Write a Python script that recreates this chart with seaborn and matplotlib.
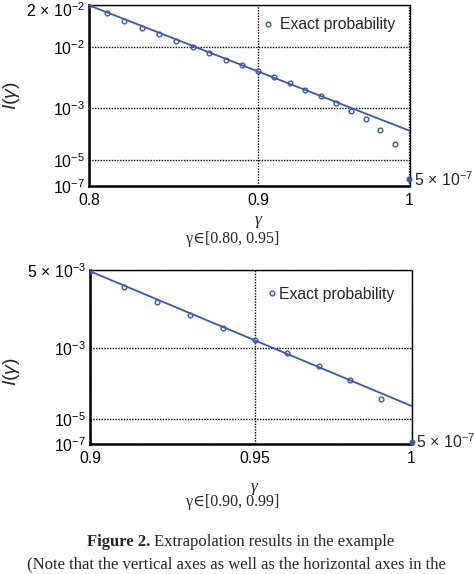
import numpy as np
import pandas as pd
import matplotlib
matplotlib.use("Agg")
import matplotlib.pyplot as plt
import matplotlib.transforms as mtransforms
from matplotlib.ticker import NullLocator
import seaborn as sns

# ---------------- data ----------------
gamma_top = [0.80, 0.81, 0.82, 0.83, 0.84, 0.85, 0.86, 0.87, 0.88, 0.89,
             0.90, 0.91, 0.92, 0.93, 0.94, 0.95, 0.96, 0.97, 0.98, 0.99]
exact_top = [2.00e-2, 1.761e-2, 1.551e-2, 1.382e-2, 1.239e-2, 1.104e-2, 1.00e-2,
             7.96e-3, 6.25e-3, 5.05e-3, 4.02e-3, 3.20e-3, 2.55e-3, 2.00e-3,
             1.56e-3, 1.195e-3, 7.86e-4, 3.66e-4, 1.45e-4, 4.16e-5]
fit_top_gamma = [0.80, 1.00]
fit_top_value = [2.00e-2, 1.32e-4]

gamma_bot = [0.90, 0.91, 0.92, 0.93, 0.94, 0.95, 0.96, 0.97, 0.98, 0.99]
exact_bot = [4.87e-3, 3.52e-3, 2.58e-3, 1.96e-3, 1.52e-3, 1.17e-3,
             7.36e-4, 3.16e-4, 1.22e-4, 3.61e-5]
fit_bot_gamma = [0.90, 1.00]
fit_bot_value = [4.87e-3, 2.29e-5]

gamma_end = [1.00]
exact_end = [5e-7]

# axis ticks
top_xticks = [0.8, 0.9, 1.0]
top_xticklabels = ["0.8", "0.9", "1"]
bot_xticks = [0.9, 0.95, 1.0]
bot_xticklabels = ["0.9", "0.95", "1"]
top_yticks = [2e-2, 1e-2, 1e-3, 1e-5, 1e-7]
top_yticklabels = [r"$2\,\times\,10^{-2}$", r"$10^{-2}$", r"$10^{-3}$", r"$10^{-5}$", r"$10^{-7}$"]
bot_yticks = [5e-3, 1e-3, 1e-5, 1e-7]
bot_yticklabels = [r"$5\,\times\,10^{-3}$", r"$10^{-3}$", r"$10^{-5}$", r"$10^{-7}$"]
end_label = r"$5\,\times\,10^{-7}$"

# calibration knots of the (non-standard) vertical scale: value -> axis fraction
top_scale_vals = [1e-7, 5e-7, 1e-5, 1e-3, 1e-2, 2e-2]
top_scale_frac = [0.0, 0.0355, 0.1441, 0.4307, 0.7672, 1.0]
bot_scale_vals = [1e-7, 5e-7, 1e-5, 1e-3, 5e-3]
bot_scale_frac = [0.0, 0.0098, 0.1439, 0.5509, 1.0]

BLUE = "#3c59a5"
FS = 11.3

sns.set_theme(style="white")
plt.rcParams["font.family"] = ["Liberation Sans", "DejaVu Sans"]
plt.rcParams["mathtext.fontset"] = "custom"
plt.rcParams["mathtext.rm"] = "Liberation Sans"
plt.rcParams["mathtext.it"] = "Liberation Sans:italic"
plt.rcParams["mathtext.bf"] = "Liberation Sans:bold"


def make_scale(vals, fracs):
    lv = np.log10(np.asarray(vals, float))
    fr = np.asarray(fracs, float)

    def _map(x, xp, fp):
        x = np.atleast_1d(np.asarray(x, float))
        out = np.interp(x, xp, fp)
        lo = x < xp[0]
        hi = x > xp[-1]
        out[lo] = fp[0] + (x[lo] - xp[0]) * (fp[1] - fp[0]) / (xp[1] - xp[0])
        out[hi] = fp[-1] + (x[hi] - xp[-1]) * (fp[-1] - fp[-2]) / (xp[-1] - xp[-2])
        return out

    def fwd(y):
        y = np.asarray(y, float)
        with np.errstate(all="ignore"):
            l = np.log10(np.clip(y, 1e-300, None))
        return _map(l, lv, fr).reshape(np.shape(y))

    def inv(t):
        t = np.asarray(t, float)
        return (10.0 ** _map(t, fr, lv)).reshape(np.shape(t))

    return fwd, inv


def panel(ax, gam, exact, fit_g, fit_v, xlim, xticks, xtl, ylim, yticks, ytl,
          svals, sfrac, leg_anchor, htp):
    fwd, inv = make_scale(svals, sfrac)
    ax.set_xscale("log")
    ax.set_yscale("function", functions=(fwd, inv))

    df_fit = pd.DataFrame({"g": fit_g, "v": fit_v})
    sns.lineplot(data=df_fit, x="g", y="v", ax=ax, color=BLUE, lw=1.3,
                 errorbar=None, legend=False, zorder=3)
    df = pd.DataFrame({"g": gam, "v": exact})
    sns.lineplot(data=df, x="g", y="v", ax=ax, linestyle="", marker="o",
                 markersize=3.4, markerfacecolor="none", markeredgecolor=BLUE,
                 markeredgewidth=1.0, errorbar=None, label="Exact probability",
                 zorder=4)
    df_end = pd.DataFrame({"g": gamma_end, "v": exact_end})
    sns.lineplot(data=df_end, x="g", y="v", ax=ax, linestyle="", marker="o",
                 markersize=3.6, markerfacecolor=BLUE, markeredgecolor=BLUE,
                 errorbar=None, legend=False, zorder=5, clip_on=False)
    ax.annotate(end_label, xy=(gamma_end[0], exact_end[0]),
                xytext=(3.0, 0), textcoords="offset points", ha="left",
                va="center", fontsize=FS, annotation_clip=False)

    ax.set_xlim(*xlim)
    ax.set_ylim(*ylim)
    ax.set_xticks(xticks)
    ax.set_xticklabels(xtl)
    ax.set_yticks(yticks)
    ax.set_yticklabels(ytl)
    ax.xaxis.set_minor_locator(NullLocator())
    ax.yaxis.set_minor_locator(NullLocator())
    ax.tick_params(axis="both", length=0, labelsize=FS, colors="black")
    ax.tick_params(axis="x", pad=5)
    ax.tick_params(axis="y", pad=3)
    ax.set_xlabel("")
    ax.set_ylabel("")
    ax.grid(True, which="major", color="black", linestyle=(0, (1, 1)), linewidth=1.0)
    for s in ("left", "bottom"):
        ax.spines[s].set_color("black")
        ax.spines[s].set_linewidth(1.8)
    for s in ("top", "right"):
        ax.spines[s].set_color("black")
        ax.spines[s].set_linewidth(1.0)
        ax.spines[s].set_linestyle((0, (1, 1)))
    ax.set_facecolor("white")

    handles, labels = ax.get_legend_handles_labels()
    ax.legend(handles, labels, loc="upper right", bbox_to_anchor=leg_anchor,
              frameon=False, fontsize=FS, handlelength=0.6, handletextpad=htp,
              borderaxespad=0.0, borderpad=0.0)


fig = plt.figure(figsize=(4.74, 5.74), dpi=100)
W, H = 474.0, 574.0

ax1 = fig.add_axes([89 / W, 1 - 185.7 / H, 320.5 / W, 180.4 / H])
panel(ax1, gamma_top, exact_top, fit_top_gamma, fit_top_value, (0.8, 1.0),
      top_xticks, top_xticklabels, (1e-7, 2e-2), top_yticks, top_yticklabels,
      top_scale_vals, top_scale_frac, (0.955, 0.935), 0.45)
# nudge the top-most tick label slightly down so it stays inside the figure
lab = ax1.yaxis.get_major_ticks()[0].label1
lab.set_transform(lab.get_transform() +
                  mtransforms.ScaledTranslation(0, -2.5 / 72, fig.dpi_scale_trans))

ax2 = fig.add_axes([90 / W, 1 - 443.7 / H, 321.5 / W, 173.7 / H])
panel(ax2, gamma_bot, exact_bot, fit_bot_gamma, fit_bot_value, (0.9, 1.0),
      bot_xticks, bot_xticklabels, (1e-7, 5e-3), bot_yticks, bot_yticklabels,
      bot_scale_vals, bot_scale_frac, (0.945, 0.905), 0.15)

serif = ["Liberation Serif", "DejaVu Serif"]
# y labels
fig.text(12 / W, 1 - 96 / H, r"$I(\gamma)$", rotation=90, ha="center", va="center", fontsize=14)
fig.text(12 / W, 1 - 372 / H, r"$I(\gamma)$", rotation=90, ha="center", va="center", fontsize=14)
# x labels
fig.text(258 / W, 1 - 220 / H, "γ", ha="center", va="center", fontsize=12.5,
         family=serif, style="italic")
fig.text(254 / W, 1 - 487 / H, "γ", ha="center", va="center", fontsize=12.5,
         family=serif, style="italic")
fig.text(233 / W, 1 - 239 / H, "γ∈[0.80, 0.95]", ha="center", va="center",
         fontsize=11.5, family=serif)
fig.text(233 / W, 1 - 502 / H, "γ∈[0.90, 0.99]", ha="center", va="center",
         fontsize=11.5, family=serif)

# caption
fig.canvas.draw()
r = fig.canvas.get_renderer()
t_bold = fig.text(87 / W, 1 - 542 / H, "Figure 2.", ha="left", va="center",
                  fontsize=12, family=serif, weight="bold")
bb = t_bold.get_window_extent(renderer=r)
fig.text((bb.x1 + 3.5) / W, 1 - 542 / H, "Extrapolation results in the example",
         ha="left", va="center", fontsize=12, family=serif)
fig.text(236 / W, 1 - 564 / H,
         "(Note that the vertical axes as well as the horizontal axes in the",
         ha="center", va="center", fontsize=12, family=serif)

fig.savefig("out.png", dpi=100, facecolor="white")
